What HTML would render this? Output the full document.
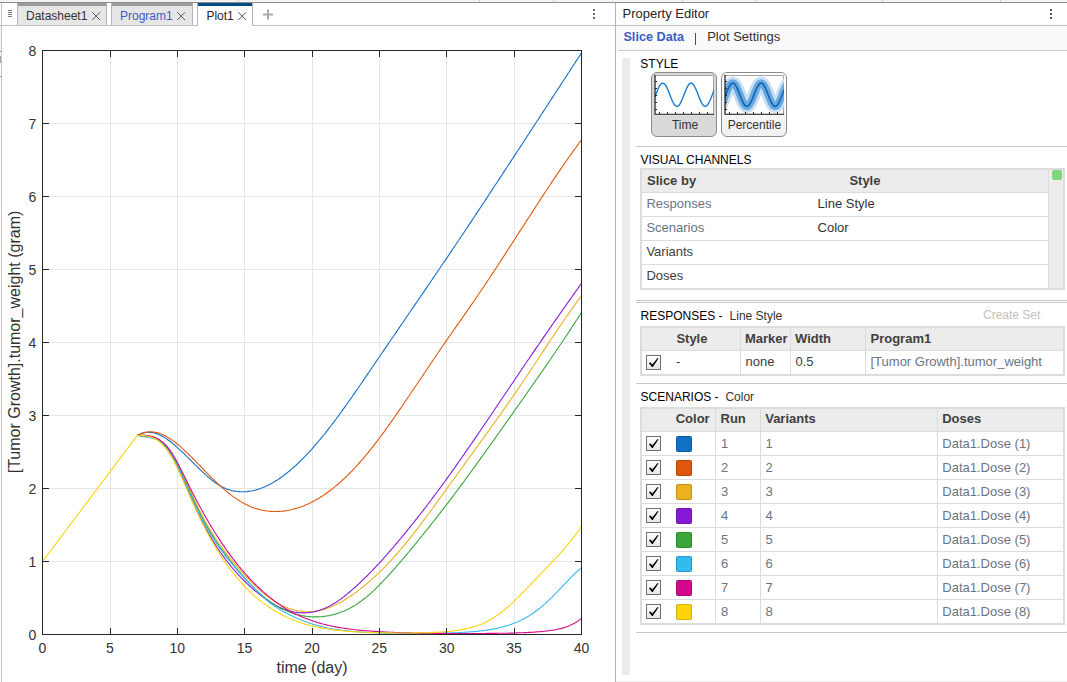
<!DOCTYPE html>
<html><head><meta charset="utf-8"><style>
html,body{margin:0;padding:0;}
body{width:1067px;height:682px;overflow:hidden;position:relative;background:#fff;font-family:"Liberation Sans",sans-serif;}
div{box-sizing:content-box;}
.t{position:absolute;white-space:pre;line-height:0;height:0;}
.t span{display:inline-block;line-height:normal;transform:translateY(-78%);}
</style></head><body>

<div style="position:absolute;left:0px;top:0px;width:1067px;height:2px;background:#f3f3f3;"></div>
<div style="position:absolute;left:238px;top:0px;width:1px;height:2px;background:#d4d4d4;"></div>
<div style="position:absolute;left:479px;top:0px;width:1px;height:2px;background:#d4d4d4;"></div>
<div style="position:absolute;left:553px;top:0px;width:1px;height:2px;background:#d4d4d4;"></div>
<div style="position:absolute;left:682px;top:0px;width:1px;height:2px;background:#d4d4d4;"></div>
<div style="position:absolute;left:756px;top:0px;width:1px;height:2px;background:#d4d4d4;"></div>
<div style="position:absolute;left:882px;top:0px;width:1px;height:2px;background:#d4d4d4;"></div>
<div style="position:absolute;left:1000px;top:0px;width:1px;height:2px;background:#d4d4d4;"></div>
<div style="position:absolute;left:0px;top:2px;width:1067px;height:1px;background:#8e8e8e;"></div>
<svg width="615" height="682" viewBox="0 0 615 682" style="position:absolute;left:0;top:0">
<path d="M110.5,51 V634 M177.5,51 V634 M244.5,51 V634 M312.5,51 V634 M379.5,51 V634 M446.5,51 V634 M514.5,51 V634 M43,561.5 H581 M43,488.5 H581 M43,415.5 H581 M43,342.5 H581 M43,269.5 H581 M43,196.5 H581 M43,123.5 H581" stroke="#e6e6e6" stroke-width="1" fill="none" shape-rendering="crispEdges"/>
<path d="M137.5,435.2 L138.8,434.5 L140.2,433.9 L141.5,433.4 L142.9,433.0 L144.2,432.6 L145.6,432.4 L146.9,432.3 L148.3,432.2 L149.6,432.3 L151.0,432.4 L152.3,432.6 L153.7,432.8 L155.0,433.2 L156.4,433.6 L157.7,434.1 L159.1,434.7 L160.4,435.3 L161.8,436.0 L163.1,436.8 L164.5,437.6 L165.8,438.4 L167.2,439.3 L168.5,440.3 L169.9,441.3 L171.2,442.3 L172.6,443.4 L173.9,444.5 L175.3,445.7 L176.6,446.9 L178.0,448.1 L179.3,449.3 L180.7,450.6 L182.0,451.8 L183.4,453.1 L184.7,454.4 L186.1,455.8 L187.4,457.1 L188.8,458.4 L190.1,459.7 L191.5,461.1 L192.8,462.4 L194.2,463.8 L195.5,465.1 L196.9,466.4 L198.2,467.7 L199.6,469.1 L200.9,470.4 L202.3,471.6 L203.6,472.9 L205.0,474.2 L206.3,475.4 L207.7,476.6 L209.0,477.7 L210.4,478.9 L211.7,480.0 L213.1,481.0 L214.4,482.0 L215.8,483.0 L217.1,483.9 L218.5,484.8 L219.8,485.6 L221.2,486.4 L222.5,487.1 L223.9,487.7 L225.2,488.3 L226.6,488.9 L227.9,489.4 L229.3,489.8 L230.6,490.2 L232.0,490.6 L233.3,490.9 L234.7,491.1 L236.0,491.3 L237.4,491.5 L238.7,491.6 L240.1,491.7 L241.4,491.8 L242.8,491.8 L244.1,491.8 L245.5,491.7 L246.8,491.6 L248.2,491.4 L249.5,491.3 L250.9,491.0 L252.2,490.8 L253.6,490.5 L254.9,490.2 L256.3,489.8 L257.6,489.4 L259.0,489.0 L260.3,488.5 L261.7,488.0 L263.0,487.5 L264.4,486.9 L265.7,486.3 L267.1,485.7 L268.4,485.1 L269.8,484.4 L271.1,483.7 L272.5,482.9 L273.8,482.1 L275.2,481.3 L276.5,480.5 L277.9,479.6 L279.2,478.7 L280.6,477.8 L281.9,476.8 L283.2,475.9 L284.6,474.8 L285.9,473.8 L287.3,472.7 L288.6,471.6 L290.0,470.5 L291.3,469.4 L292.7,468.2 L294.0,467.0 L295.4,465.8 L296.7,464.5 L298.1,463.3 L299.4,462.0 L300.8,460.7 L302.1,459.3 L303.5,457.9 L304.8,456.6 L306.2,455.1 L307.5,453.7 L308.9,452.3 L310.2,450.8 L311.6,449.3 L312.9,447.8 L314.3,446.2 L315.6,444.7 L317.0,443.1 L318.3,441.5 L319.7,439.9 L321.0,438.3 L322.4,436.7 L323.7,435.0 L325.1,433.3 L326.4,431.6 L327.8,429.9 L329.1,428.2 L330.5,426.5 L331.8,424.7 L333.2,422.9 L334.5,421.1 L335.9,419.3 L337.2,417.5 L338.6,415.7 L339.9,413.8 L341.3,412.0 L342.6,410.1 L344.0,408.2 L345.3,406.4 L346.7,404.5 L348.0,402.5 L349.4,400.6 L350.7,398.7 L352.1,396.8 L353.4,394.8 L354.8,392.9 L356.1,390.9 L357.5,389.0 L358.8,387.0 L360.2,385.0 L361.5,383.0 L362.9,381.1 L364.2,379.1 L365.6,377.1 L366.9,375.1 L368.3,373.2 L369.6,371.2 L371.0,369.2 L372.3,367.2 L373.7,365.2 L375.0,363.2 L376.4,361.3 L377.7,359.3 L379.1,357.3 L380.4,355.3 L381.8,353.3 L383.1,351.4 L384.5,349.4 L385.8,347.4 L387.2,345.4 L388.5,343.4 L389.9,341.5 L391.2,339.5 L392.6,337.5 L393.9,335.5 L395.3,333.6 L396.6,331.6 L398.0,329.6 L399.3,327.6 L400.7,325.6 L402.0,323.7 L403.4,321.7 L404.7,319.7 L406.1,317.7 L407.4,315.8 L408.8,313.8 L410.1,311.8 L411.5,309.8 L412.8,307.9 L414.2,305.9 L415.5,303.9 L416.9,302.0 L418.2,300.0 L419.6,298.0 L420.9,296.0 L422.3,294.1 L423.6,292.1 L425.0,290.1 L426.3,288.1 L427.7,286.1 L429.0,284.2 L430.4,282.2 L431.7,280.2 L433.0,278.2 L434.4,276.3 L435.7,274.3 L437.1,272.3 L438.4,270.3 L439.8,268.3 L441.1,266.3 L442.5,264.3 L443.8,262.3 L445.2,260.4 L446.5,258.4 L447.9,256.4 L449.2,254.4 L450.6,252.4 L451.9,250.4 L453.3,248.3 L454.6,246.3 L456.0,244.3 L457.3,242.3 L458.7,240.3 L460.0,238.3 L461.4,236.3 L462.7,234.2 L464.1,232.2 L465.4,230.2 L466.8,228.2 L468.1,226.1 L469.5,224.1 L470.8,222.1 L472.2,220.1 L473.5,218.0 L474.9,216.0 L476.2,213.9 L477.6,211.9 L478.9,209.9 L480.3,207.8 L481.6,205.8 L483.0,203.7 L484.3,201.7 L485.7,199.6 L487.0,197.6 L488.4,195.5 L489.7,193.5 L491.1,191.4 L492.4,189.4 L493.8,187.3 L495.1,185.3 L496.5,183.2 L497.8,181.2 L499.2,179.1 L500.5,177.1 L501.9,175.0 L503.2,172.9 L504.6,170.9 L505.9,168.8 L507.3,166.8 L508.6,164.7 L510.0,162.6 L511.3,160.6 L512.7,158.5 L514.0,156.4 L515.4,154.4 L516.7,152.3 L518.1,150.2 L519.4,148.2 L520.8,146.1 L522.1,144.0 L523.5,142.0 L524.8,139.9 L526.2,137.8 L527.5,135.8 L528.9,133.7 L530.2,131.6 L531.6,129.5 L532.9,127.5 L534.3,125.4 L535.6,123.3 L537.0,121.2 L538.3,119.2 L539.7,117.1 L541.0,115.0 L542.4,113.0 L543.7,110.9 L545.1,108.8 L546.4,106.7 L547.8,104.7 L549.1,102.6 L550.5,100.5 L551.8,98.4 L553.2,96.4 L554.5,94.3 L555.9,92.2 L557.2,90.1 L558.6,88.1 L559.9,86.0 L561.3,83.9 L562.6,81.8 L564.0,79.8 L565.3,77.7 L566.7,75.6 L568.0,73.5 L569.4,71.5 L570.7,69.4 L572.1,67.3 L573.4,65.2 L574.8,63.2 L576.1,61.1 L577.5,59.0 L578.8,57.0 L580.2,54.9 L581.5,52.8" stroke="#1270c6" stroke-width="1.1" fill="none" stroke-linejoin="round"/>
<path d="M137.5,435.2 L138.8,434.5 L140.2,433.9 L141.5,433.4 L142.9,433.0 L144.2,432.6 L145.6,432.3 L146.9,432.1 L148.3,432.0 L149.6,431.9 L151.0,431.9 L152.3,432.0 L153.7,432.1 L155.0,432.3 L156.4,432.6 L157.7,432.9 L159.1,433.3 L160.4,433.8 L161.8,434.3 L163.1,434.9 L164.5,435.5 L165.8,436.2 L167.2,437.0 L168.5,437.8 L169.9,438.6 L171.2,439.5 L172.6,440.4 L173.9,441.4 L175.3,442.4 L176.6,443.5 L178.0,444.6 L179.3,445.7 L180.7,446.9 L182.0,448.1 L183.4,449.3 L184.7,450.6 L186.1,451.9 L187.4,453.2 L188.8,454.5 L190.1,455.8 L191.5,457.2 L192.8,458.5 L194.2,459.9 L195.5,461.3 L196.9,462.7 L198.2,464.1 L199.6,465.4 L200.9,466.8 L202.3,468.2 L203.6,469.6 L205.0,471.0 L206.3,472.4 L207.7,473.8 L209.0,475.1 L210.4,476.5 L211.7,477.8 L213.1,479.1 L214.4,480.4 L215.8,481.7 L217.1,483.0 L218.5,484.3 L219.8,485.5 L221.2,486.7 L222.5,487.9 L223.9,489.1 L225.2,490.2 L226.6,491.4 L227.9,492.5 L229.3,493.5 L230.6,494.6 L232.0,495.6 L233.3,496.6 L234.7,497.6 L236.0,498.5 L237.4,499.4 L238.7,500.3 L240.1,501.1 L241.4,501.9 L242.8,502.7 L244.1,503.5 L245.5,504.2 L246.8,504.8 L248.2,505.5 L249.5,506.1 L250.9,506.7 L252.2,507.2 L253.6,507.7 L254.9,508.2 L256.3,508.6 L257.6,509.0 L259.0,509.4 L260.3,509.8 L261.7,510.1 L263.0,510.3 L264.4,510.6 L265.7,510.8 L267.1,511.0 L268.4,511.2 L269.8,511.3 L271.1,511.4 L272.5,511.5 L273.8,511.5 L275.2,511.5 L276.5,511.5 L277.9,511.5 L279.2,511.4 L280.6,511.3 L281.9,511.2 L283.2,511.1 L284.6,510.9 L285.9,510.7 L287.3,510.5 L288.6,510.2 L290.0,510.0 L291.3,509.7 L292.7,509.3 L294.0,509.0 L295.4,508.6 L296.7,508.2 L298.1,507.8 L299.4,507.4 L300.8,506.9 L302.1,506.4 L303.5,505.9 L304.8,505.3 L306.2,504.8 L307.5,504.2 L308.9,503.5 L310.2,502.9 L311.6,502.2 L312.9,501.5 L314.3,500.8 L315.6,500.1 L317.0,499.3 L318.3,498.5 L319.7,497.7 L321.0,496.8 L322.4,496.0 L323.7,495.1 L325.1,494.2 L326.4,493.2 L327.8,492.3 L329.1,491.3 L330.5,490.3 L331.8,489.2 L333.2,488.1 L334.5,487.1 L335.9,485.9 L337.2,484.8 L338.6,483.7 L339.9,482.5 L341.3,481.3 L342.6,480.0 L344.0,478.8 L345.3,477.5 L346.7,476.2 L348.0,474.9 L349.4,473.5 L350.7,472.2 L352.1,470.8 L353.4,469.4 L354.8,467.9 L356.1,466.5 L357.5,465.0 L358.8,463.5 L360.2,462.0 L361.5,460.4 L362.9,458.9 L364.2,457.3 L365.6,455.7 L366.9,454.0 L368.3,452.4 L369.6,450.7 L371.0,449.1 L372.3,447.3 L373.7,445.6 L375.0,443.9 L376.4,442.1 L377.7,440.4 L379.1,438.6 L380.4,436.8 L381.8,434.9 L383.1,433.1 L384.5,431.3 L385.8,429.4 L387.2,427.5 L388.5,425.6 L389.9,423.7 L391.2,421.8 L392.6,419.9 L393.9,418.0 L395.3,416.0 L396.6,414.1 L398.0,412.1 L399.3,410.1 L400.7,408.2 L402.0,406.2 L403.4,404.2 L404.7,402.2 L406.1,400.3 L407.4,398.3 L408.8,396.3 L410.1,394.3 L411.5,392.3 L412.8,390.3 L414.2,388.3 L415.5,386.3 L416.9,384.3 L418.2,382.3 L419.6,380.3 L420.9,378.2 L422.3,376.2 L423.6,374.2 L425.0,372.2 L426.3,370.2 L427.7,368.2 L429.0,366.2 L430.4,364.2 L431.7,362.2 L433.0,360.2 L434.4,358.2 L435.7,356.2 L437.1,354.2 L438.4,352.2 L439.8,350.2 L441.1,348.3 L442.5,346.3 L443.8,344.3 L445.2,342.4 L446.5,340.4 L447.9,338.5 L449.2,336.5 L450.6,334.6 L451.9,332.7 L453.3,330.7 L454.6,328.8 L456.0,326.9 L457.3,324.9 L458.7,323.0 L460.0,321.1 L461.4,319.2 L462.7,317.2 L464.1,315.3 L465.4,313.4 L466.8,311.4 L468.1,309.5 L469.5,307.6 L470.8,305.6 L472.2,303.7 L473.5,301.7 L474.9,299.7 L476.2,297.8 L477.6,295.8 L478.9,293.8 L480.3,291.8 L481.6,289.8 L483.0,287.8 L484.3,285.8 L485.7,283.7 L487.0,281.7 L488.4,279.7 L489.7,277.7 L491.1,275.6 L492.4,273.6 L493.8,271.5 L495.1,269.5 L496.5,267.4 L497.8,265.3 L499.2,263.3 L500.5,261.2 L501.9,259.1 L503.2,257.1 L504.6,255.0 L505.9,252.9 L507.3,250.8 L508.6,248.7 L510.0,246.6 L511.3,244.5 L512.7,242.4 L514.0,240.3 L515.4,238.2 L516.7,236.1 L518.1,234.0 L519.4,231.9 L520.8,229.9 L522.1,227.8 L523.5,225.7 L524.8,223.6 L526.2,221.5 L527.5,219.4 L528.9,217.3 L530.2,215.2 L531.6,213.1 L532.9,211.0 L534.3,208.9 L535.6,206.8 L537.0,204.7 L538.3,202.7 L539.7,200.6 L541.0,198.5 L542.4,196.4 L543.7,194.4 L545.1,192.3 L546.4,190.3 L547.8,188.2 L549.1,186.2 L550.5,184.2 L551.8,182.1 L553.2,180.1 L554.5,178.1 L555.9,176.1 L557.2,174.1 L558.6,172.1 L559.9,170.1 L561.3,168.2 L562.6,166.2 L564.0,164.2 L565.3,162.3 L566.7,160.4 L568.0,158.5 L569.4,156.5 L570.7,154.6 L572.1,152.8 L573.4,150.9 L574.8,149.0 L576.1,147.2 L577.5,145.3 L578.8,143.5 L580.2,141.7 L581.5,139.9" stroke="#e0560c" stroke-width="1.1" fill="none" stroke-linejoin="round"/>
<path d="M137.5,435.2 L138.8,435.2 L140.2,435.2 L141.5,435.3 L142.9,435.3 L144.2,435.4 L145.6,435.5 L146.9,435.7 L148.3,435.9 L149.6,436.1 L151.0,436.5 L152.3,436.9 L153.7,437.3 L155.0,437.9 L156.4,438.6 L157.7,439.3 L159.1,440.2 L160.4,441.1 L161.8,442.2 L163.1,443.4 L164.5,444.7 L165.8,446.1 L167.2,447.7 L168.5,449.4 L169.9,451.3 L171.2,453.2 L172.6,455.4 L173.9,457.6 L175.3,460.0 L176.6,462.5 L178.0,465.0 L179.3,467.7 L180.7,470.4 L182.0,473.2 L183.4,476.0 L184.7,478.9 L186.1,481.8 L187.4,484.7 L188.8,487.6 L190.1,490.6 L191.5,493.5 L192.8,496.4 L194.2,499.3 L195.5,502.1 L196.9,504.9 L198.2,507.7 L199.6,510.4 L200.9,513.1 L202.3,515.7 L203.6,518.3 L205.0,520.8 L206.3,523.3 L207.7,525.7 L209.0,528.0 L210.4,530.2 L211.7,532.4 L213.1,534.6 L214.4,536.7 L215.8,538.7 L217.1,540.7 L218.5,542.7 L219.8,544.6 L221.2,546.5 L222.5,548.3 L223.9,550.1 L225.2,551.9 L226.6,553.7 L227.9,555.4 L229.3,557.1 L230.6,558.8 L232.0,560.4 L233.3,562.1 L234.7,563.7 L236.0,565.2 L237.4,566.8 L238.7,568.4 L240.1,569.9 L241.4,571.4 L242.8,572.9 L244.1,574.4 L245.5,575.9 L246.8,577.3 L248.2,578.7 L249.5,580.1 L250.9,581.5 L252.2,582.9 L253.6,584.2 L254.9,585.6 L256.3,586.9 L257.6,588.1 L259.0,589.4 L260.3,590.6 L261.7,591.7 L263.0,592.9 L264.4,594.0 L265.7,595.1 L267.1,596.1 L268.4,597.2 L269.8,598.1 L271.1,599.1 L272.5,600.0 L273.8,600.9 L275.2,601.7 L276.5,602.5 L277.9,603.3 L279.2,604.0 L280.6,604.7 L281.9,605.4 L283.2,606.0 L284.6,606.6 L285.9,607.2 L287.3,607.7 L288.6,608.2 L290.0,608.7 L291.3,609.1 L292.7,609.5 L294.0,609.9 L295.4,610.2 L296.7,610.5 L298.1,610.8 L299.4,611.0 L300.8,611.2 L302.1,611.4 L303.5,611.6 L304.8,611.7 L306.2,611.7 L307.5,611.8 L308.9,611.8 L310.2,611.7 L311.6,611.7 L312.9,611.6 L314.3,611.4 L315.6,611.2 L317.0,611.0 L318.3,610.8 L319.7,610.5 L321.0,610.2 L322.4,609.9 L323.7,609.5 L325.1,609.1 L326.4,608.7 L327.8,608.2 L329.1,607.7 L330.5,607.2 L331.8,606.6 L333.2,606.1 L334.5,605.4 L335.9,604.8 L337.2,604.1 L338.6,603.4 L339.9,602.7 L341.3,601.9 L342.6,601.2 L344.0,600.3 L345.3,599.5 L346.7,598.7 L348.0,597.8 L349.4,596.9 L350.7,596.0 L352.1,595.0 L353.4,594.1 L354.8,593.1 L356.1,592.2 L357.5,591.2 L358.8,590.1 L360.2,589.1 L361.5,588.0 L362.9,587.0 L364.2,585.9 L365.6,584.8 L366.9,583.6 L368.3,582.5 L369.6,581.3 L371.0,580.1 L372.3,578.9 L373.7,577.7 L375.0,576.5 L376.4,575.2 L377.7,573.9 L379.1,572.6 L380.4,571.3 L381.8,570.0 L383.1,568.6 L384.5,567.3 L385.8,565.9 L387.2,564.5 L388.5,563.0 L389.9,561.6 L391.2,560.1 L392.6,558.7 L393.9,557.2 L395.3,555.6 L396.6,554.1 L398.0,552.6 L399.3,551.0 L400.7,549.4 L402.0,547.8 L403.4,546.2 L404.7,544.6 L406.1,542.9 L407.4,541.3 L408.8,539.6 L410.1,537.9 L411.5,536.2 L412.8,534.5 L414.2,532.8 L415.5,531.1 L416.9,529.3 L418.2,527.6 L419.6,525.8 L420.9,524.0 L422.3,522.2 L423.6,520.4 L425.0,518.6 L426.3,516.8 L427.7,515.0 L429.0,513.2 L430.4,511.3 L431.7,509.5 L433.0,507.7 L434.4,505.8 L435.7,504.0 L437.1,502.1 L438.4,500.3 L439.8,498.4 L441.1,496.6 L442.5,494.7 L443.8,492.8 L445.2,491.0 L446.5,489.1 L447.9,487.2 L449.2,485.4 L450.6,483.5 L451.9,481.6 L453.3,479.8 L454.6,477.9 L456.0,476.0 L457.3,474.2 L458.7,472.3 L460.0,470.4 L461.4,468.5 L462.7,466.7 L464.1,464.8 L465.4,462.9 L466.8,461.0 L468.1,459.2 L469.5,457.3 L470.8,455.4 L472.2,453.6 L473.5,451.7 L474.9,449.8 L476.2,447.9 L477.6,446.1 L478.9,444.2 L480.3,442.3 L481.6,440.5 L483.0,438.6 L484.3,436.7 L485.7,434.8 L487.0,433.0 L488.4,431.1 L489.7,429.2 L491.1,427.3 L492.4,425.4 L493.8,423.6 L495.1,421.7 L496.5,419.8 L497.8,417.9 L499.2,416.0 L500.5,414.1 L501.9,412.2 L503.2,410.3 L504.6,408.4 L505.9,406.5 L507.3,404.6 L508.6,402.6 L510.0,400.7 L511.3,398.8 L512.7,396.8 L514.0,394.9 L515.4,392.9 L516.7,390.9 L518.1,389.0 L519.4,387.0 L520.8,385.0 L522.1,383.0 L523.5,381.0 L524.8,379.0 L526.2,377.0 L527.5,374.9 L528.9,372.9 L530.2,370.9 L531.6,368.8 L532.9,366.8 L534.3,364.8 L535.6,362.7 L537.0,360.7 L538.3,358.6 L539.7,356.6 L541.0,354.5 L542.4,352.5 L543.7,350.4 L545.1,348.4 L546.4,346.4 L547.8,344.3 L549.1,342.3 L550.5,340.2 L551.8,338.2 L553.2,336.2 L554.5,334.2 L555.9,332.1 L557.2,330.1 L558.6,328.1 L559.9,326.1 L561.3,324.1 L562.6,322.2 L564.0,320.2 L565.3,318.2 L566.7,316.3 L568.0,314.4 L569.4,312.4 L570.7,310.5 L572.1,308.6 L573.4,306.8 L574.8,304.9 L576.1,303.0 L577.5,301.2 L578.8,299.4 L580.2,297.6 L581.5,295.8" stroke="#edb020" stroke-width="1.1" fill="none" stroke-linejoin="round"/>
<path d="M137.5,435.2 L138.8,435.5 L140.2,435.7 L141.5,435.9 L142.9,436.1 L144.2,436.2 L145.6,436.4 L146.9,436.6 L148.3,436.8 L149.6,437.1 L151.0,437.4 L152.3,437.7 L153.7,438.2 L155.0,438.7 L156.4,439.3 L157.7,440.0 L159.1,440.8 L160.4,441.7 L161.8,442.7 L163.1,443.9 L164.5,445.2 L165.8,446.7 L167.2,448.3 L168.5,450.1 L169.9,452.1 L171.2,454.2 L172.6,456.5 L173.9,459.0 L175.3,461.6 L176.6,464.4 L178.0,467.3 L179.3,470.3 L180.7,473.3 L182.0,476.5 L183.4,479.7 L184.7,482.9 L186.1,486.1 L187.4,489.3 L188.8,492.5 L190.1,495.6 L191.5,498.7 L192.8,501.8 L194.2,504.8 L195.5,507.8 L196.9,510.7 L198.2,513.6 L199.6,516.4 L200.9,519.2 L202.3,521.9 L203.6,524.5 L205.0,527.1 L206.3,529.6 L207.7,532.0 L209.0,534.4 L210.4,536.7 L211.7,539.0 L213.1,541.2 L214.4,543.3 L215.8,545.5 L217.1,547.5 L218.5,549.5 L219.8,551.5 L221.2,553.5 L222.5,555.3 L223.9,557.2 L225.2,559.0 L226.6,560.8 L227.9,562.5 L229.3,564.2 L230.6,565.9 L232.0,567.5 L233.3,569.1 L234.7,570.6 L236.0,572.2 L237.4,573.7 L238.7,575.1 L240.1,576.6 L241.4,578.0 L242.8,579.3 L244.1,580.7 L245.5,582.0 L246.8,583.3 L248.2,584.6 L249.5,585.9 L250.9,587.1 L252.2,588.3 L253.6,589.5 L254.9,590.6 L256.3,591.7 L257.6,592.9 L259.0,593.9 L260.3,595.0 L261.7,596.1 L263.0,597.1 L264.4,598.1 L265.7,599.1 L267.1,600.0 L268.4,600.9 L269.8,601.8 L271.1,602.6 L272.5,603.5 L273.8,604.3 L275.2,605.0 L276.5,605.7 L277.9,606.4 L279.2,607.1 L280.6,607.7 L281.9,608.3 L283.2,608.8 L284.6,609.3 L285.9,609.8 L287.3,610.3 L288.6,610.7 L290.0,611.1 L291.3,611.4 L292.7,611.7 L294.0,612.0 L295.4,612.2 L296.7,612.4 L298.1,612.6 L299.4,612.7 L300.8,612.8 L302.1,612.9 L303.5,612.9 L304.8,612.9 L306.2,612.8 L307.5,612.7 L308.9,612.6 L310.2,612.4 L311.6,612.2 L312.9,612.0 L314.3,611.7 L315.6,611.4 L317.0,611.0 L318.3,610.6 L319.7,610.2 L321.0,609.8 L322.4,609.3 L323.7,608.7 L325.1,608.2 L326.4,607.6 L327.8,606.9 L329.1,606.3 L330.5,605.6 L331.8,604.8 L333.2,604.0 L334.5,603.2 L335.9,602.4 L337.2,601.5 L338.6,600.6 L339.9,599.6 L341.3,598.7 L342.6,597.6 L344.0,596.6 L345.3,595.5 L346.7,594.4 L348.0,593.3 L349.4,592.2 L350.7,591.0 L352.1,589.9 L353.4,588.7 L354.8,587.5 L356.1,586.3 L357.5,585.0 L358.8,583.8 L360.2,582.5 L361.5,581.2 L362.9,579.9 L364.2,578.6 L365.6,577.3 L366.9,576.0 L368.3,574.6 L369.6,573.2 L371.0,571.9 L372.3,570.5 L373.7,569.0 L375.0,567.6 L376.4,566.2 L377.7,564.7 L379.1,563.3 L380.4,561.8 L381.8,560.3 L383.1,558.8 L384.5,557.3 L385.8,555.8 L387.2,554.3 L388.5,552.7 L389.9,551.2 L391.2,549.6 L392.6,548.1 L393.9,546.5 L395.3,544.9 L396.6,543.3 L398.0,541.7 L399.3,540.1 L400.7,538.5 L402.0,536.8 L403.4,535.2 L404.7,533.6 L406.1,531.9 L407.4,530.2 L408.8,528.6 L410.1,526.9 L411.5,525.2 L412.8,523.5 L414.2,521.8 L415.5,520.1 L416.9,518.4 L418.2,516.7 L419.6,515.0 L420.9,513.3 L422.3,511.5 L423.6,509.8 L425.0,508.0 L426.3,506.3 L427.7,504.5 L429.0,502.7 L430.4,501.0 L431.7,499.2 L433.0,497.4 L434.4,495.6 L435.7,493.8 L437.1,492.0 L438.4,490.2 L439.8,488.3 L441.1,486.5 L442.5,484.7 L443.8,482.8 L445.2,481.0 L446.5,479.1 L447.9,477.2 L449.2,475.3 L450.6,473.5 L451.9,471.6 L453.3,469.7 L454.6,467.8 L456.0,465.9 L457.3,463.9 L458.7,462.0 L460.0,460.1 L461.4,458.2 L462.7,456.2 L464.1,454.3 L465.4,452.3 L466.8,450.4 L468.1,448.4 L469.5,446.5 L470.8,444.5 L472.2,442.6 L473.5,440.6 L474.9,438.6 L476.2,436.6 L477.6,434.7 L478.9,432.7 L480.3,430.7 L481.6,428.7 L483.0,426.7 L484.3,424.7 L485.7,422.7 L487.0,420.7 L488.4,418.7 L489.7,416.7 L491.1,414.7 L492.4,412.7 L493.8,410.7 L495.1,408.7 L496.5,406.7 L497.8,404.7 L499.2,402.7 L500.5,400.7 L501.9,398.7 L503.2,396.7 L504.6,394.7 L505.9,392.7 L507.3,390.7 L508.6,388.7 L510.0,386.7 L511.3,384.7 L512.7,382.7 L514.0,380.7 L515.4,378.7 L516.7,376.7 L518.1,374.7 L519.4,372.7 L520.8,370.7 L522.1,368.7 L523.5,366.7 L524.8,364.8 L526.2,362.8 L527.5,360.8 L528.9,358.8 L530.2,356.8 L531.6,354.8 L532.9,352.9 L534.3,350.9 L535.6,348.9 L537.0,346.9 L538.3,345.0 L539.7,343.0 L541.0,341.1 L542.4,339.1 L543.7,337.1 L545.1,335.2 L546.4,333.2 L547.8,331.3 L549.1,329.3 L550.5,327.4 L551.8,325.4 L553.2,323.5 L554.5,321.6 L555.9,319.6 L557.2,317.7 L558.6,315.8 L559.9,313.8 L561.3,311.9 L562.6,310.0 L564.0,308.1 L565.3,306.2 L566.7,304.2 L568.0,302.3 L569.4,300.4 L570.7,298.5 L572.1,296.6 L573.4,294.7 L574.8,292.8 L576.1,290.9 L577.5,289.0 L578.8,287.1 L580.2,285.2 L581.5,283.3" stroke="#8719d6" stroke-width="1.1" fill="none" stroke-linejoin="round"/>
<path d="M137.5,435.2 L138.8,435.2 L140.2,435.2 L141.5,435.3 L142.9,435.4 L144.2,435.4 L145.6,435.6 L146.9,435.8 L148.3,436.0 L149.6,436.3 L151.0,436.7 L152.3,437.1 L153.7,437.6 L155.0,438.2 L156.4,438.9 L157.7,439.7 L159.1,440.6 L160.4,441.6 L161.8,442.7 L163.1,444.0 L164.5,445.4 L165.8,446.9 L167.2,448.5 L168.5,450.3 L169.9,452.2 L171.2,454.2 L172.6,456.4 L173.9,458.8 L175.3,461.2 L176.6,463.7 L178.0,466.4 L179.3,469.1 L180.7,471.9 L182.0,474.7 L183.4,477.6 L184.7,480.6 L186.1,483.5 L187.4,486.5 L188.8,489.4 L190.1,492.4 L191.5,495.4 L192.8,498.3 L194.2,501.2 L195.5,504.1 L196.9,506.9 L198.2,509.7 L199.6,512.5 L200.9,515.2 L202.3,517.8 L203.6,520.4 L205.0,522.9 L206.3,525.3 L207.7,527.7 L209.0,530.0 L210.4,532.3 L211.7,534.5 L213.1,536.6 L214.4,538.8 L215.8,540.8 L217.1,542.8 L218.5,544.8 L219.8,546.8 L221.2,548.7 L222.5,550.5 L223.9,552.4 L225.2,554.2 L226.6,556.0 L227.9,557.7 L229.3,559.5 L230.6,561.2 L232.0,562.9 L233.3,564.6 L234.7,566.2 L236.0,567.8 L237.4,569.4 L238.7,571.0 L240.1,572.6 L241.4,574.2 L242.8,575.7 L244.1,577.3 L245.5,578.8 L246.8,580.3 L248.2,581.7 L249.5,583.2 L250.9,584.6 L252.2,586.0 L253.6,587.4 L254.9,588.8 L256.3,590.1 L257.6,591.4 L259.0,592.6 L260.3,593.9 L261.7,595.0 L263.0,596.2 L264.4,597.3 L265.7,598.4 L267.1,599.5 L268.4,600.5 L269.8,601.5 L271.1,602.4 L272.5,603.4 L273.8,604.2 L275.2,605.1 L276.5,605.9 L277.9,606.7 L279.2,607.5 L280.6,608.2 L281.9,608.9 L283.2,609.5 L284.6,610.1 L285.9,610.7 L287.3,611.3 L288.6,611.8 L290.0,612.3 L291.3,612.8 L292.7,613.3 L294.0,613.7 L295.4,614.1 L296.7,614.5 L298.1,614.8 L299.4,615.1 L300.8,615.4 L302.1,615.7 L303.5,615.9 L304.8,616.1 L306.2,616.3 L307.5,616.5 L308.9,616.6 L310.2,616.7 L311.6,616.8 L312.9,616.9 L314.3,616.9 L315.6,616.9 L317.0,616.9 L318.3,616.9 L319.7,616.8 L321.0,616.7 L322.4,616.6 L323.7,616.4 L325.1,616.2 L326.4,616.0 L327.8,615.8 L329.1,615.6 L330.5,615.3 L331.8,615.0 L333.2,614.6 L334.5,614.3 L335.9,613.9 L337.2,613.5 L338.6,613.1 L339.9,612.6 L341.3,612.1 L342.6,611.6 L344.0,611.0 L345.3,610.4 L346.7,609.8 L348.0,609.2 L349.4,608.5 L350.7,607.8 L352.1,607.0 L353.4,606.2 L354.8,605.4 L356.1,604.6 L357.5,603.7 L358.8,602.8 L360.2,601.8 L361.5,600.9 L362.9,599.8 L364.2,598.8 L365.6,597.7 L366.9,596.6 L368.3,595.5 L369.6,594.3 L371.0,593.1 L372.3,591.8 L373.7,590.6 L375.0,589.3 L376.4,587.9 L377.7,586.6 L379.1,585.3 L380.4,583.9 L381.8,582.5 L383.1,581.1 L384.5,579.7 L385.8,578.2 L387.2,576.8 L388.5,575.3 L389.9,573.8 L391.2,572.3 L392.6,570.8 L393.9,569.3 L395.3,567.8 L396.6,566.2 L398.0,564.7 L399.3,563.1 L400.7,561.6 L402.0,560.0 L403.4,558.4 L404.7,556.8 L406.1,555.2 L407.4,553.6 L408.8,552.0 L410.1,550.4 L411.5,548.7 L412.8,547.1 L414.2,545.5 L415.5,543.8 L416.9,542.2 L418.2,540.5 L419.6,538.9 L420.9,537.2 L422.3,535.5 L423.6,533.8 L425.0,532.2 L426.3,530.5 L427.7,528.8 L429.0,527.1 L430.4,525.4 L431.7,523.7 L433.0,522.0 L434.4,520.3 L435.7,518.6 L437.1,516.8 L438.4,515.1 L439.8,513.4 L441.1,511.7 L442.5,509.9 L443.8,508.2 L445.2,506.4 L446.5,504.7 L447.9,502.9 L449.2,501.1 L450.6,499.4 L451.9,497.6 L453.3,495.8 L454.6,494.0 L456.0,492.2 L457.3,490.4 L458.7,488.6 L460.0,486.7 L461.4,484.9 L462.7,483.1 L464.1,481.3 L465.4,479.4 L466.8,477.6 L468.1,475.7 L469.5,473.9 L470.8,472.0 L472.2,470.2 L473.5,468.3 L474.9,466.4 L476.2,464.6 L477.6,462.7 L478.9,460.8 L480.3,458.9 L481.6,457.1 L483.0,455.2 L484.3,453.3 L485.7,451.4 L487.0,449.5 L488.4,447.6 L489.7,445.7 L491.1,443.9 L492.4,442.0 L493.8,440.1 L495.1,438.2 L496.5,436.3 L497.8,434.4 L499.2,432.5 L500.5,430.6 L501.9,428.7 L503.2,426.7 L504.6,424.8 L505.9,422.9 L507.3,421.0 L508.6,419.1 L510.0,417.2 L511.3,415.3 L512.7,413.4 L514.0,411.5 L515.4,409.5 L516.7,407.6 L518.1,405.7 L519.4,403.8 L520.8,401.9 L522.1,400.0 L523.5,398.0 L524.8,396.1 L526.2,394.2 L527.5,392.3 L528.9,390.3 L530.2,388.4 L531.6,386.5 L532.9,384.5 L534.3,382.6 L535.6,380.7 L537.0,378.7 L538.3,376.8 L539.7,374.9 L541.0,372.9 L542.4,371.0 L543.7,369.0 L545.1,367.1 L546.4,365.1 L547.8,363.1 L549.1,361.2 L550.5,359.2 L551.8,357.2 L553.2,355.3 L554.5,353.3 L555.9,351.3 L557.2,349.3 L558.6,347.3 L559.9,345.3 L561.3,343.3 L562.6,341.3 L564.0,339.3 L565.3,337.3 L566.7,335.2 L568.0,333.2 L569.4,331.1 L570.7,329.1 L572.1,327.0 L573.4,324.9 L574.8,322.9 L576.1,320.8 L577.5,318.7 L578.8,316.6 L580.2,314.5 L581.5,312.3" stroke="#3aa63a" stroke-width="1.1" fill="none" stroke-linejoin="round"/>
<path d="M137.5,435.2 L138.8,435.6 L140.2,435.9 L141.5,436.2 L142.9,436.5 L144.2,436.7 L145.6,436.9 L146.9,437.0 L148.3,437.2 L149.6,437.5 L151.0,437.7 L152.3,438.0 L153.7,438.4 L155.0,438.8 L156.4,439.3 L157.7,439.9 L159.1,440.6 L160.4,441.5 L161.8,442.4 L163.1,443.5 L164.5,444.7 L165.8,446.1 L167.2,447.7 L168.5,449.4 L169.9,451.3 L171.2,453.4 L172.6,455.7 L173.9,458.1 L175.3,460.7 L176.6,463.4 L178.0,466.3 L179.3,469.2 L180.7,472.2 L182.0,475.3 L183.4,478.4 L184.7,481.5 L186.1,484.6 L187.4,487.8 L188.8,490.9 L190.1,494.0 L191.5,497.1 L192.8,500.1 L194.2,503.1 L195.5,506.0 L196.9,508.9 L198.2,511.8 L199.6,514.5 L200.9,517.2 L202.3,519.9 L203.6,522.4 L205.0,524.9 L206.3,527.4 L207.7,529.7 L209.0,532.0 L210.4,534.2 L211.7,536.4 L213.1,538.5 L214.4,540.6 L215.8,542.6 L217.1,544.5 L218.5,546.5 L219.8,548.4 L221.2,550.2 L222.5,552.0 L223.9,553.8 L225.2,555.6 L226.6,557.3 L227.9,559.0 L229.3,560.7 L230.6,562.3 L232.0,564.0 L233.3,565.6 L234.7,567.2 L236.0,568.7 L237.4,570.3 L238.7,571.8 L240.1,573.4 L241.4,574.9 L242.8,576.3 L244.1,577.8 L245.5,579.3 L246.8,580.7 L248.2,582.2 L249.5,583.6 L250.9,585.0 L252.2,586.4 L253.6,587.7 L254.9,589.1 L256.3,590.4 L257.6,591.8 L259.0,593.1 L260.3,594.4 L261.7,595.7 L263.0,596.9 L264.4,598.2 L265.7,599.4 L267.1,600.5 L268.4,601.6 L269.8,602.7 L271.1,603.7 L272.5,604.7 L273.8,605.6 L275.2,606.5 L276.5,607.4 L277.9,608.3 L279.2,609.1 L280.6,609.9 L281.9,610.7 L283.2,611.4 L284.6,612.2 L285.9,612.9 L287.3,613.6 L288.6,614.3 L290.0,615.0 L291.3,615.6 L292.7,616.3 L294.0,616.9 L295.4,617.5 L296.7,618.1 L298.1,618.7 L299.4,619.3 L300.8,619.8 L302.1,620.4 L303.5,620.9 L304.8,621.4 L306.2,621.9 L307.5,622.4 L308.9,622.9 L310.2,623.3 L311.6,623.8 L312.9,624.2 L314.3,624.6 L315.6,625.0 L317.0,625.4 L318.3,625.8 L319.7,626.1 L321.0,626.5 L322.4,626.8 L323.7,627.1 L325.1,627.4 L326.4,627.7 L327.8,628.0 L329.1,628.2 L330.5,628.5 L331.8,628.7 L333.2,629.0 L334.5,629.2 L335.9,629.4 L337.2,629.6 L338.6,629.8 L339.9,630.0 L341.3,630.2 L342.6,630.4 L344.0,630.5 L345.3,630.7 L346.7,630.8 L348.0,631.0 L349.4,631.1 L350.7,631.2 L352.1,631.4 L353.4,631.5 L354.8,631.6 L356.1,631.7 L357.5,631.8 L358.8,631.9 L360.2,632.0 L361.5,632.1 L362.9,632.2 L364.2,632.2 L365.6,632.3 L366.9,632.4 L368.3,632.5 L369.6,632.5 L371.0,632.6 L372.3,632.7 L373.7,632.7 L375.0,632.8 L376.4,632.8 L377.7,632.9 L379.1,632.9 L380.4,632.9 L381.8,633.0 L383.1,633.0 L384.5,633.1 L385.8,633.1 L387.2,633.1 L388.5,633.2 L389.9,633.2 L391.2,633.2 L392.6,633.2 L393.9,633.3 L395.3,633.3 L396.6,633.3 L398.0,633.3 L399.3,633.3 L400.7,633.4 L402.0,633.4 L403.4,633.4 L404.7,633.4 L406.1,633.4 L407.4,633.4 L408.8,633.4 L410.1,633.4 L411.5,633.4 L412.8,633.4 L414.2,633.4 L415.5,633.4 L416.9,633.4 L418.2,633.4 L419.6,633.4 L420.9,633.4 L422.3,633.4 L423.6,633.4 L425.0,633.4 L426.3,633.4 L427.7,633.4 L429.0,633.4 L430.4,633.4 L431.7,633.3 L433.0,633.3 L434.4,633.3 L435.7,633.3 L437.1,633.3 L438.4,633.2 L439.8,633.2 L441.1,633.2 L442.5,633.2 L443.8,633.1 L445.2,633.1 L446.5,633.1 L447.9,633.0 L449.2,633.0 L450.6,632.9 L451.9,632.9 L453.3,632.8 L454.6,632.8 L456.0,632.7 L457.3,632.7 L458.7,632.6 L460.0,632.5 L461.4,632.5 L462.7,632.4 L464.1,632.3 L465.4,632.2 L466.8,632.1 L468.1,632.0 L469.5,631.9 L470.8,631.8 L472.2,631.7 L473.5,631.6 L474.9,631.5 L476.2,631.4 L477.6,631.2 L478.9,631.1 L480.3,631.0 L481.6,630.8 L483.0,630.6 L484.3,630.5 L485.7,630.3 L487.0,630.1 L488.4,629.9 L489.7,629.7 L491.1,629.4 L492.4,629.2 L493.8,628.9 L495.1,628.7 L496.5,628.4 L497.8,628.1 L499.2,627.8 L500.5,627.5 L501.9,627.1 L503.2,626.8 L504.6,626.4 L505.9,626.0 L507.3,625.6 L508.6,625.2 L510.0,624.7 L511.3,624.3 L512.7,623.8 L514.0,623.3 L515.4,622.7 L516.7,622.2 L518.1,621.6 L519.4,621.0 L520.8,620.3 L522.1,619.6 L523.5,619.0 L524.8,618.2 L526.2,617.5 L527.5,616.7 L528.9,615.9 L530.2,615.0 L531.6,614.2 L532.9,613.3 L534.3,612.3 L535.6,611.3 L537.0,610.3 L538.3,609.3 L539.7,608.2 L541.0,607.1 L542.4,606.0 L543.7,604.9 L545.1,603.7 L546.4,602.5 L547.8,601.2 L549.1,599.9 L550.5,598.6 L551.8,597.3 L553.2,596.0 L554.5,594.6 L555.9,593.2 L557.2,591.8 L558.6,590.4 L559.9,589.0 L561.3,587.6 L562.6,586.2 L564.0,584.7 L565.3,583.3 L566.7,581.9 L568.0,580.5 L569.4,579.1 L570.7,577.7 L572.1,576.3 L573.4,575.0 L574.8,573.7 L576.1,572.4 L577.5,571.2 L578.8,570.0 L580.2,568.9 L581.5,567.8" stroke="#32bcee" stroke-width="1.1" fill="none" stroke-linejoin="round"/>
<path d="M137.5,435.2 L138.8,435.2 L140.2,435.2 L141.5,435.2 L142.9,435.3 L144.2,435.3 L145.6,435.4 L146.9,435.5 L148.3,435.7 L149.6,435.9 L151.0,436.2 L152.3,436.5 L153.7,436.9 L155.0,437.4 L156.4,438.0 L157.7,438.7 L159.1,439.5 L160.4,440.4 L161.8,441.4 L163.1,442.5 L164.5,443.8 L165.8,445.2 L167.2,446.7 L168.5,448.3 L169.9,450.1 L171.2,452.1 L172.6,454.1 L173.9,456.4 L175.3,458.7 L176.6,461.1 L178.0,463.6 L179.3,466.2 L180.7,468.9 L182.0,471.6 L183.4,474.3 L184.7,477.0 L186.1,479.8 L187.4,482.5 L188.8,485.3 L190.1,488.0 L191.5,490.7 L192.8,493.3 L194.2,496.0 L195.5,498.5 L196.9,501.1 L198.2,503.6 L199.6,506.1 L200.9,508.6 L202.3,511.1 L203.6,513.5 L205.0,515.8 L206.3,518.2 L207.7,520.5 L209.0,522.8 L210.4,525.1 L211.7,527.3 L213.1,529.5 L214.4,531.7 L215.8,533.8 L217.1,536.0 L218.5,538.0 L219.8,540.1 L221.2,542.1 L222.5,544.1 L223.9,546.1 L225.2,548.1 L226.6,550.0 L227.9,551.9 L229.3,553.7 L230.6,555.6 L232.0,557.4 L233.3,559.2 L234.7,560.9 L236.0,562.6 L237.4,564.3 L238.7,566.0 L240.1,567.7 L241.4,569.3 L242.8,570.9 L244.1,572.4 L245.5,574.0 L246.8,575.5 L248.2,577.0 L249.5,578.4 L250.9,579.9 L252.2,581.3 L253.6,582.7 L254.9,584.0 L256.3,585.4 L257.6,586.7 L259.0,588.0 L260.3,589.2 L261.7,590.5 L263.0,591.7 L264.4,592.9 L265.7,594.0 L267.1,595.2 L268.4,596.3 L269.8,597.4 L271.1,598.4 L272.5,599.5 L273.8,600.5 L275.2,601.5 L276.5,602.5 L277.9,603.5 L279.2,604.4 L280.6,605.3 L281.9,606.2 L283.2,607.0 L284.6,607.9 L285.9,608.7 L287.3,609.5 L288.6,610.3 L290.0,611.0 L291.3,611.8 L292.7,612.5 L294.0,613.2 L295.4,613.9 L296.7,614.5 L298.1,615.2 L299.4,615.8 L300.8,616.4 L302.1,617.0 L303.5,617.5 L304.8,618.1 L306.2,618.6 L307.5,619.1 L308.9,619.6 L310.2,620.1 L311.6,620.6 L312.9,621.0 L314.3,621.5 L315.6,621.9 L317.0,622.3 L318.3,622.7 L319.7,623.1 L321.0,623.5 L322.4,623.8 L323.7,624.2 L325.1,624.5 L326.4,624.9 L327.8,625.2 L329.1,625.5 L330.5,625.8 L331.8,626.1 L333.2,626.3 L334.5,626.6 L335.9,626.9 L337.2,627.1 L338.6,627.4 L339.9,627.6 L341.3,627.8 L342.6,628.0 L344.0,628.2 L345.3,628.4 L346.7,628.6 L348.0,628.8 L349.4,629.0 L350.7,629.2 L352.1,629.3 L353.4,629.5 L354.8,629.7 L356.1,629.8 L357.5,630.0 L358.8,630.1 L360.2,630.2 L361.5,630.4 L362.9,630.5 L364.2,630.6 L365.6,630.7 L366.9,630.8 L368.3,630.9 L369.6,631.0 L371.0,631.1 L372.3,631.2 L373.7,631.3 L375.0,631.4 L376.4,631.5 L377.7,631.6 L379.1,631.7 L380.4,631.8 L381.8,631.8 L383.1,631.9 L384.5,632.0 L385.8,632.0 L387.2,632.1 L388.5,632.2 L389.9,632.2 L391.2,632.3 L392.6,632.3 L393.9,632.4 L395.3,632.5 L396.6,632.5 L398.0,632.5 L399.3,632.6 L400.7,632.6 L402.0,632.7 L403.4,632.7 L404.7,632.8 L406.1,632.8 L407.4,632.8 L408.8,632.9 L410.1,632.9 L411.5,632.9 L412.8,633.0 L414.2,633.0 L415.5,633.0 L416.9,633.1 L418.2,633.1 L419.6,633.1 L420.9,633.1 L422.3,633.2 L423.6,633.2 L425.0,633.2 L426.3,633.2 L427.7,633.2 L429.0,633.3 L430.4,633.3 L431.7,633.3 L433.0,633.3 L434.4,633.3 L435.7,633.4 L437.1,633.4 L438.4,633.4 L439.8,633.4 L441.1,633.4 L442.5,633.4 L443.8,633.4 L445.2,633.4 L446.5,633.4 L447.9,633.5 L449.2,633.5 L450.6,633.5 L451.9,633.5 L453.3,633.5 L454.6,633.5 L456.0,633.5 L457.3,633.5 L458.7,633.5 L460.0,633.5 L461.4,633.5 L462.7,633.5 L464.1,633.5 L465.4,633.5 L466.8,633.5 L468.1,633.5 L469.5,633.5 L470.8,633.5 L472.2,633.5 L473.5,633.5 L474.9,633.5 L476.2,633.5 L477.6,633.5 L478.9,633.5 L480.3,633.5 L481.6,633.5 L483.0,633.5 L484.3,633.5 L485.7,633.5 L487.0,633.4 L488.4,633.4 L489.7,633.4 L491.1,633.4 L492.4,633.4 L493.8,633.4 L495.1,633.4 L496.5,633.4 L497.8,633.3 L499.2,633.3 L500.5,633.3 L501.9,633.3 L503.2,633.3 L504.6,633.2 L505.9,633.2 L507.3,633.2 L508.6,633.1 L510.0,633.1 L511.3,633.1 L512.7,633.1 L514.0,633.0 L515.4,633.0 L516.7,632.9 L518.1,632.9 L519.4,632.8 L520.8,632.8 L522.1,632.8 L523.5,632.7 L524.8,632.6 L526.2,632.6 L527.5,632.5 L528.9,632.4 L530.2,632.4 L531.6,632.3 L532.9,632.2 L534.3,632.1 L535.6,632.0 L537.0,631.9 L538.3,631.8 L539.7,631.7 L541.0,631.6 L542.4,631.5 L543.7,631.3 L545.1,631.2 L546.4,631.0 L547.8,630.9 L549.1,630.7 L550.5,630.5 L551.8,630.3 L553.2,630.1 L554.5,629.8 L555.9,629.6 L557.2,629.3 L558.6,629.0 L559.9,628.7 L561.3,628.4 L562.6,628.0 L564.0,627.6 L565.3,627.2 L566.7,626.8 L568.0,626.3 L569.4,625.7 L570.7,625.1 L572.1,624.5 L573.4,623.8 L574.8,623.1 L576.1,622.3 L577.5,621.4 L578.8,620.5 L580.2,619.4 L581.5,618.3" stroke="#d4088a" stroke-width="1.1" fill="none" stroke-linejoin="round"/>
<path d="M42.5,561.5 L137.5,435.2 L138.8,435.2 L140.2,435.3 L141.5,435.4 L142.9,435.4 L144.2,435.6 L145.6,435.8 L146.9,436.0 L148.3,436.3 L149.6,436.6 L151.0,437.0 L152.3,437.5 L153.7,438.1 L155.0,438.8 L156.4,439.6 L157.7,440.5 L159.1,441.5 L160.4,442.6 L161.8,443.9 L163.1,445.3 L164.5,446.8 L165.8,448.4 L167.2,450.2 L168.5,452.1 L169.9,454.2 L171.2,456.4 L172.6,458.8 L173.9,461.3 L175.3,463.9 L176.6,466.6 L178.0,469.4 L179.3,472.3 L180.7,475.3 L182.0,478.3 L183.4,481.3 L184.7,484.4 L186.1,487.5 L187.4,490.5 L188.8,493.6 L190.1,496.7 L191.5,499.7 L192.8,502.7 L194.2,505.7 L195.5,508.7 L196.9,511.6 L198.2,514.5 L199.6,517.4 L200.9,520.2 L202.3,522.9 L203.6,525.6 L205.0,528.3 L206.3,530.9 L207.7,533.4 L209.0,535.9 L210.4,538.4 L211.7,540.8 L213.1,543.2 L214.4,545.5 L215.8,547.8 L217.1,550.0 L218.5,552.2 L219.8,554.3 L221.2,556.4 L222.5,558.4 L223.9,560.5 L225.2,562.4 L226.6,564.4 L227.9,566.2 L229.3,568.1 L230.6,569.9 L232.0,571.7 L233.3,573.4 L234.7,575.1 L236.0,576.7 L237.4,578.4 L238.7,579.9 L240.1,581.5 L241.4,583.0 L242.8,584.5 L244.1,585.9 L245.5,587.3 L246.8,588.7 L248.2,590.1 L249.5,591.4 L250.9,592.7 L252.2,593.9 L253.6,595.2 L254.9,596.3 L256.3,597.5 L257.6,598.6 L259.0,599.8 L260.3,600.8 L261.7,601.9 L263.0,602.9 L264.4,603.9 L265.7,604.9 L267.1,605.8 L268.4,606.8 L269.8,607.7 L271.1,608.5 L272.5,609.4 L273.8,610.2 L275.2,611.0 L276.5,611.8 L277.9,612.6 L279.2,613.3 L280.6,614.1 L281.9,614.8 L283.2,615.4 L284.6,616.1 L285.9,616.8 L287.3,617.4 L288.6,618.0 L290.0,618.6 L291.3,619.1 L292.7,619.7 L294.0,620.2 L295.4,620.8 L296.7,621.3 L298.1,621.8 L299.4,622.2 L300.8,622.7 L302.1,623.1 L303.5,623.6 L304.8,624.0 L306.2,624.4 L307.5,624.7 L308.9,625.1 L310.2,625.5 L311.6,625.8 L312.9,626.1 L314.3,626.5 L315.6,626.8 L317.0,627.1 L318.3,627.3 L319.7,627.6 L321.0,627.9 L322.4,628.1 L323.7,628.4 L325.1,628.6 L326.4,628.8 L327.8,629.0 L329.1,629.2 L330.5,629.4 L331.8,629.6 L333.2,629.8 L334.5,629.9 L335.9,630.1 L337.2,630.3 L338.6,630.4 L339.9,630.5 L341.3,630.7 L342.6,630.8 L344.0,630.9 L345.3,631.1 L346.7,631.2 L348.0,631.3 L349.4,631.4 L350.7,631.5 L352.1,631.6 L353.4,631.7 L354.8,631.7 L356.1,631.8 L357.5,631.9 L358.8,632.0 L360.2,632.0 L361.5,632.1 L362.9,632.2 L364.2,632.2 L365.6,632.3 L366.9,632.3 L368.3,632.4 L369.6,632.4 L371.0,632.5 L372.3,632.5 L373.7,632.6 L375.0,632.6 L376.4,632.7 L377.7,632.7 L379.1,632.7 L380.4,632.8 L381.8,632.8 L383.1,632.8 L384.5,632.8 L385.8,632.9 L387.2,632.9 L388.5,632.9 L389.9,632.9 L391.2,632.9 L392.6,632.9 L393.9,633.0 L395.3,633.0 L396.6,633.0 L398.0,633.0 L399.3,633.0 L400.7,633.0 L402.0,633.0 L403.4,633.0 L404.7,633.0 L406.1,633.0 L407.4,633.0 L408.8,633.0 L410.1,633.0 L411.5,633.0 L412.8,632.9 L414.2,632.9 L415.5,632.9 L416.9,632.9 L418.2,632.9 L419.6,632.9 L420.9,632.8 L422.3,632.8 L423.6,632.8 L425.0,632.7 L426.3,632.7 L427.7,632.7 L429.0,632.6 L430.4,632.6 L431.7,632.5 L433.0,632.4 L434.4,632.4 L435.7,632.3 L437.1,632.2 L438.4,632.2 L439.8,632.1 L441.1,632.0 L442.5,631.9 L443.8,631.8 L445.2,631.7 L446.5,631.6 L447.9,631.4 L449.2,631.3 L450.6,631.2 L451.9,631.0 L453.3,630.9 L454.6,630.7 L456.0,630.5 L457.3,630.3 L458.7,630.1 L460.0,629.9 L461.4,629.7 L462.7,629.4 L464.1,629.2 L465.4,628.9 L466.8,628.6 L468.1,628.3 L469.5,627.9 L470.8,627.6 L472.2,627.2 L473.5,626.8 L474.9,626.4 L476.2,626.0 L477.6,625.5 L478.9,625.0 L480.3,624.5 L481.6,624.0 L483.0,623.4 L484.3,622.8 L485.7,622.2 L487.0,621.5 L488.4,620.8 L489.7,620.1 L491.1,619.3 L492.4,618.5 L493.8,617.7 L495.1,616.8 L496.5,615.9 L497.8,615.0 L499.2,614.0 L500.5,613.0 L501.9,612.0 L503.2,610.9 L504.6,609.8 L505.9,608.7 L507.3,607.5 L508.6,606.3 L510.0,605.1 L511.3,603.8 L512.7,602.6 L514.0,601.3 L515.4,600.0 L516.7,598.6 L518.1,597.3 L519.4,596.0 L520.8,594.6 L522.1,593.2 L523.5,591.9 L524.8,590.5 L526.2,589.1 L527.5,587.7 L528.9,586.3 L530.2,584.9 L531.6,583.5 L532.9,582.1 L534.3,580.7 L535.6,579.3 L537.0,577.9 L538.3,576.5 L539.7,575.1 L541.0,573.6 L542.4,572.2 L543.7,570.8 L545.1,569.4 L546.4,568.0 L547.8,566.6 L549.1,565.2 L550.5,563.7 L551.8,562.3 L553.2,560.9 L554.5,559.4 L555.9,558.0 L557.2,556.5 L558.6,555.1 L559.9,553.6 L561.3,552.1 L562.6,550.6 L564.0,549.1 L565.3,547.5 L566.7,545.9 L568.0,544.3 L569.4,542.7 L570.7,541.1 L572.1,539.4 L573.4,537.6 L574.8,535.8 L576.1,534.0 L577.5,532.2 L578.8,530.2 L580.2,528.2 L581.5,526.2" stroke="#ffd30a" stroke-width="1.1" fill="none" stroke-linejoin="round"/>
<path d="M42.5,50.5 H581.5 V634.5 H42.5 Z M110.5,634 V628 M110.5,51 V57 M177.5,634 V628 M177.5,51 V57 M244.5,634 V628 M244.5,51 V57 M312.5,634 V628 M312.5,51 V57 M379.5,634 V628 M379.5,51 V57 M446.5,634 V628 M446.5,51 V57 M514.5,634 V628 M514.5,51 V57 M43,561.5 H49 M581,561.5 H575 M43,488.5 H49 M581,488.5 H575 M43,415.5 H49 M581,415.5 H575 M43,342.5 H49 M581,342.5 H575 M43,269.5 H49 M581,269.5 H575 M43,196.5 H49 M581,196.5 H575 M43,123.5 H49 M581,123.5 H575" stroke="#262626" stroke-width="1" fill="none" shape-rendering="crispEdges"/>
<text x="36.3" y="639.5" text-anchor="end" font-family="Liberation Sans" font-size="14" fill="#333333">0</text>
<text x="36.3" y="566.5" text-anchor="end" font-family="Liberation Sans" font-size="14" fill="#333333">1</text>
<text x="36.3" y="493.5" text-anchor="end" font-family="Liberation Sans" font-size="14" fill="#333333">2</text>
<text x="36.3" y="420.5" text-anchor="end" font-family="Liberation Sans" font-size="14" fill="#333333">3</text>
<text x="36.3" y="347.5" text-anchor="end" font-family="Liberation Sans" font-size="14" fill="#333333">4</text>
<text x="36.3" y="274.5" text-anchor="end" font-family="Liberation Sans" font-size="14" fill="#333333">5</text>
<text x="36.3" y="201.5" text-anchor="end" font-family="Liberation Sans" font-size="14" fill="#333333">6</text>
<text x="36.3" y="128.5" text-anchor="end" font-family="Liberation Sans" font-size="14" fill="#333333">7</text>
<text x="36.3" y="55.5" text-anchor="end" font-family="Liberation Sans" font-size="14" fill="#333333">8</text>
<text x="42.50" y="653" text-anchor="middle" font-family="Liberation Sans" font-size="14" fill="#333333">0</text>
<text x="109.88" y="653" text-anchor="middle" font-family="Liberation Sans" font-size="14" fill="#333333">5</text>
<text x="177.25" y="653" text-anchor="middle" font-family="Liberation Sans" font-size="14" fill="#333333">10</text>
<text x="244.62" y="653" text-anchor="middle" font-family="Liberation Sans" font-size="14" fill="#333333">15</text>
<text x="312.00" y="653" text-anchor="middle" font-family="Liberation Sans" font-size="14" fill="#333333">20</text>
<text x="379.38" y="653" text-anchor="middle" font-family="Liberation Sans" font-size="14" fill="#333333">25</text>
<text x="446.75" y="653" text-anchor="middle" font-family="Liberation Sans" font-size="14" fill="#333333">30</text>
<text x="514.12" y="653" text-anchor="middle" font-family="Liberation Sans" font-size="14" fill="#333333">35</text>
<text x="581.50" y="653" text-anchor="middle" font-family="Liberation Sans" font-size="14" fill="#333333">40</text>
<text x="312" y="672.6" text-anchor="middle" font-family="Liberation Sans" font-size="16" fill="#333333">time (day)</text>
<text transform="translate(19.8,342) rotate(-90)" text-anchor="middle" font-family="Liberation Sans" font-size="16" fill="#333333">[Tumor Growth].tumor_weight (gram)</text>
</svg>
<div style="position:absolute;left:1px;top:3px;width:1px;height:679px;background:#c4c4c4;"></div>
<div style="position:absolute;left:0px;top:26px;width:1px;height:25px;background:#f4f4f4;"></div>
<div style="position:absolute;left:0px;top:51px;width:1px;height:1px;background:#8a8a8a;"></div>
<div style="position:absolute;left:0px;top:56px;width:1px;height:7px;background:#a8a8a8;"></div>
<div style="position:absolute;left:0px;top:76px;width:1px;height:1px;background:#8a8a8a;"></div>
<div style="position:absolute;left:0px;top:25px;width:197px;height:1px;background:#c0c0c0;"></div>
<div style="position:absolute;left:252px;top:25px;width:363px;height:1px;background:#c0c0c0;"></div>
<div style="position:absolute;left:8px;top:10px;width:4px;height:1px;background:#7a7a7a;"></div>
<div style="position:absolute;left:8px;top:12px;width:4px;height:1px;background:#7a7a7a;"></div>
<div style="position:absolute;left:8px;top:14px;width:4px;height:1px;background:#7a7a7a;"></div>
<div style="position:absolute;left:8px;top:16px;width:4px;height:1px;background:#7a7a7a;"></div>
<div style="position:absolute;left:17px;top:3px;width:1px;height:22px;background:#b4b4b4;"></div>
<div style="position:absolute;left:18px;top:3px;width:88px;height:22px;background:#e6e6e6;"></div><div style="position:absolute;left:18px;top:3px;width:88px;height:3px;background:#9c9c9c;"></div><div style="position:absolute;left:17px;top:3px;width:1px;height:22px;background:#b4b4b4;"></div><div style="position:absolute;left:106px;top:3px;width:1px;height:22px;background:#b4b4b4;"></div><div class="t" style="left:26px;top:20px;font-size:12px;color:#333;font-weight:400;"><span>Datasheet1</span></div><svg style="position:absolute;left:92px;top:12px" width="10" height="10" viewBox="0 0 10 10"><path d="M0.3,0.3 L8,8 M8,0.3 L0.3,8" stroke="#555" stroke-width="1" fill="none"/></svg>
<div style="position:absolute;left:112px;top:3px;width:80px;height:22px;background:#e6e6e6;"></div><div style="position:absolute;left:112px;top:3px;width:80px;height:3px;background:#9c9c9c;"></div><div style="position:absolute;left:111px;top:3px;width:1px;height:22px;background:#b4b4b4;"></div><div style="position:absolute;left:192px;top:3px;width:1px;height:22px;background:#b4b4b4;"></div><div class="t" style="left:120px;top:20px;font-size:12px;color:#4359c9;font-weight:400;"><span>Program1</span></div><svg style="position:absolute;left:177px;top:12px" width="10" height="10" viewBox="0 0 10 10"><path d="M0.3,0.3 L8,8 M8,0.3 L0.3,8" stroke="#555" stroke-width="1" fill="none"/></svg>
<div style="position:absolute;left:198px;top:3px;width:54px;height:22px;background:#fff;"></div><div style="position:absolute;left:198px;top:3px;width:54px;height:3px;background:#004b87;"></div><div style="position:absolute;left:197px;top:3px;width:1px;height:23px;background:#b4b4b4;"></div><div style="position:absolute;left:252px;top:3px;width:1px;height:23px;background:#b4b4b4;"></div><div class="t" style="left:206.4px;top:20px;font-size:12px;color:#262626;font-weight:400;"><span>Plot1</span></div><svg style="position:absolute;left:238px;top:12px" width="10" height="10" viewBox="0 0 10 10"><path d="M0.3,0.3 L8,8 M8,0.3 L0.3,8" stroke="#555" stroke-width="1" fill="none"/></svg>
<svg style="position:absolute;left:262px;top:9px" width="12" height="12" viewBox="0 0 12 12"><path d="M6,0.5 V10.5 M1,5.5 H11" stroke="#ababab" stroke-width="2" fill="none"/></svg>
<div style="position:absolute;left:593px;top:9px;width:2px;height:2px;background:#6a6a6a;"></div>
<div style="position:absolute;left:593px;top:13px;width:2px;height:2px;background:#6a6a6a;"></div>
<div style="position:absolute;left:593px;top:17px;width:2px;height:2px;background:#6a6a6a;"></div>
<div style="position:absolute;left:615px;top:3px;width:1px;height:679px;background:#b4b4b4;"></div>
<div class="t" style="left:622.5px;top:18.2px;font-size:13px;color:#262626;font-weight:400;"><span>Property Editor</span></div>
<div style="position:absolute;left:1050px;top:9px;width:2px;height:2px;background:#555;"></div>
<div style="position:absolute;left:1050px;top:13px;width:2px;height:2px;background:#555;"></div>
<div style="position:absolute;left:1050px;top:17px;width:2px;height:2px;background:#555;"></div>
<div style="position:absolute;left:616px;top:25px;width:451px;height:1px;background:#c0c0c0;"></div>
<div style="position:absolute;left:616px;top:26px;width:451px;height:24px;background:#fafafa;"></div>
<div style="position:absolute;left:618px;top:50px;width:449px;height:1px;background:#cdcdcd;"></div>
<div class="t" style="left:623.4px;top:41px;font-size:12.7px;color:#3e5cc4;font-weight:700;"><span>Slice Data</span></div>
<div style="position:absolute;left:695px;top:33px;width:1px;height:12px;background:#4e4e5e;"></div>
<div class="t" style="left:707.2px;top:41px;font-size:13px;color:#333;font-weight:400;"><span>Plot Settings</span></div>
<div style="position:absolute;left:622px;top:58px;width:8px;height:617px;background:#ececec;"></div>
<div class="t" style="left:640.3px;top:68px;font-size:12px;color:#000;font-weight:400;"><span>STYLE</span></div>
<div style="position:absolute;left:651px;top:72px;width:64px;height:63px;border:1px solid #8a8a8a;border-radius:6px;background:#d9d9d9"></div>
<svg style="position:absolute;left:0;top:0" width="1067" height="682"><defs><clipPath id="c654"><rect x="655" y="76" width="59" height="38"/></clipPath></defs><rect x="654" y="75" width="60" height="40" fill="#fff"/><path d="M654,75.5 H713.5 V114" stroke="#a4a4a4" stroke-width="1" fill="none"/><g clip-path="url(#c654)"><path d="M642.0,95.91 L643.0,98.44 L644.0,100.78 L645.0,102.83 L646.0,104.48 L647.0,105.65 L648.0,106.29 L649.0,106.36 L650.0,105.86 L651.0,104.82 L652.0,103.28 L653.0,101.32 L654.0,99.04 L655.0,96.55 L656.0,93.97 L657.0,91.43 L658.0,89.06 L659.0,86.96 L660.0,85.24 L661.0,83.99 L662.0,83.27 L663.0,83.11 L664.0,83.53 L665.0,84.49 L666.0,85.96 L667.0,87.86 L668.0,90.10 L669.0,92.56 L670.0,95.14 L671.0,97.69 L672.0,100.10 L673.0,102.25 L674.0,104.03 L675.0,105.35 L676.0,106.16 L677.0,106.40 L678.0,106.07 L679.0,105.19 L680.0,103.79 L681.0,101.95 L682.0,99.75 L683.0,97.32 L684.0,94.75 L685.0,92.18 L686.0,89.75 L687.0,87.55 L688.0,85.71 L689.0,84.31 L690.0,83.43 L691.0,83.10 L692.0,83.34 L693.0,84.15 L694.0,85.47 L695.0,87.25 L696.0,89.40 L697.0,91.81 L698.0,94.36 L699.0,96.94 L700.0,99.40 L701.0,101.64 L702.0,103.54 L703.0,105.01 L704.0,105.97 L705.0,106.39 L706.0,106.23 L707.0,105.51 L708.0,104.26 L709.0,102.54 L710.0,100.44 L711.0,98.07 L712.0,95.53 L713.0,92.95 L714.0,90.46 L715.0,88.18 L716.0,86.22 L717.0,84.68 L718.0,83.64 L719.0,83.14 L720.0,83.21 L721.0,83.85 L722.0,85.02 L723.0,86.67 L724.0,88.72 L725.0,91.06 L726.0,93.59 L727.0,96.17" stroke="#1a7ccc" stroke-width="1.4" fill="none"/></g><path d="M655,75 V114.25 H714" stroke="#111" stroke-width="1.2" fill="none"/><path d="M655,81.5 H657 M655,88.5 H657 M655,95.5 H657 M655,102.5 H657 M655,109.5 H657 M659.5,114 V112 M667.5,114 V112 M675.5,114 V112 M683.5,114 V112 M691.5,114 V112 M699.5,114 V112 M707.5,114 V112" stroke="#222" stroke-width="1" fill="none"/></svg>
<div class="t" style="left:671.9px;top:129px;font-size:12px;color:#333;font-weight:400;"><span>Time</span></div>
<div style="position:absolute;left:721px;top:72px;width:64px;height:63px;border:1px solid #8a8a8a;border-radius:6px;background:linear-gradient(#ffffff,#f0f0f0)"></div>
<svg style="position:absolute;left:0;top:0" width="1067" height="682"><defs><clipPath id="c724"><rect x="725" y="76" width="59" height="38"/></clipPath></defs><rect x="724" y="75" width="60" height="40" fill="#fff"/><path d="M724,75.5 H783.5 V114" stroke="#a4a4a4" stroke-width="1" fill="none"/><g clip-path="url(#c724)"><path d="M712.0,95.91 L713.0,98.44 L714.0,100.78 L715.0,102.83 L716.0,104.48 L717.0,105.65 L718.0,106.29 L719.0,106.36 L720.0,105.86 L721.0,104.82 L722.0,103.28 L723.0,101.32 L724.0,99.04 L725.0,96.55 L726.0,93.97 L727.0,91.43 L728.0,89.06 L729.0,86.96 L730.0,85.24 L731.0,83.99 L732.0,83.27 L733.0,83.11 L734.0,83.53 L735.0,84.49 L736.0,85.96 L737.0,87.86 L738.0,90.10 L739.0,92.56 L740.0,95.14 L741.0,97.69 L742.0,100.10 L743.0,102.25 L744.0,104.03 L745.0,105.35 L746.0,106.16 L747.0,106.40 L748.0,106.07 L749.0,105.19 L750.0,103.79 L751.0,101.95 L752.0,99.75 L753.0,97.32 L754.0,94.75 L755.0,92.18 L756.0,89.75 L757.0,87.55 L758.0,85.71 L759.0,84.31 L760.0,83.43 L761.0,83.10 L762.0,83.34 L763.0,84.15 L764.0,85.47 L765.0,87.25 L766.0,89.40 L767.0,91.81 L768.0,94.36 L769.0,96.94 L770.0,99.40 L771.0,101.64 L772.0,103.54 L773.0,105.01 L774.0,105.97 L775.0,106.39 L776.0,106.23 L777.0,105.51 L778.0,104.26 L779.0,102.54 L780.0,100.44 L781.0,98.07 L782.0,95.53 L783.0,92.95 L784.0,90.46 L785.0,88.18 L786.0,86.22 L787.0,84.68 L788.0,83.64 L789.0,83.14 L790.0,83.21 L791.0,83.85 L792.0,85.02 L793.0,86.67 L794.0,88.72 L795.0,91.06 L796.0,93.59 L797.0,96.17" stroke="#c9dff3" stroke-width="13" fill="none"/><path d="M712.0,95.91 L713.0,98.44 L714.0,100.78 L715.0,102.83 L716.0,104.48 L717.0,105.65 L718.0,106.29 L719.0,106.36 L720.0,105.86 L721.0,104.82 L722.0,103.28 L723.0,101.32 L724.0,99.04 L725.0,96.55 L726.0,93.97 L727.0,91.43 L728.0,89.06 L729.0,86.96 L730.0,85.24 L731.0,83.99 L732.0,83.27 L733.0,83.11 L734.0,83.53 L735.0,84.49 L736.0,85.96 L737.0,87.86 L738.0,90.10 L739.0,92.56 L740.0,95.14 L741.0,97.69 L742.0,100.10 L743.0,102.25 L744.0,104.03 L745.0,105.35 L746.0,106.16 L747.0,106.40 L748.0,106.07 L749.0,105.19 L750.0,103.79 L751.0,101.95 L752.0,99.75 L753.0,97.32 L754.0,94.75 L755.0,92.18 L756.0,89.75 L757.0,87.55 L758.0,85.71 L759.0,84.31 L760.0,83.43 L761.0,83.10 L762.0,83.34 L763.0,84.15 L764.0,85.47 L765.0,87.25 L766.0,89.40 L767.0,91.81 L768.0,94.36 L769.0,96.94 L770.0,99.40 L771.0,101.64 L772.0,103.54 L773.0,105.01 L774.0,105.97 L775.0,106.39 L776.0,106.23 L777.0,105.51 L778.0,104.26 L779.0,102.54 L780.0,100.44 L781.0,98.07 L782.0,95.53 L783.0,92.95 L784.0,90.46 L785.0,88.18 L786.0,86.22 L787.0,84.68 L788.0,83.64 L789.0,83.14 L790.0,83.21 L791.0,83.85 L792.0,85.02 L793.0,86.67 L794.0,88.72 L795.0,91.06 L796.0,93.59 L797.0,96.17" stroke="#6aa9df" stroke-width="7.5" fill="none"/><path d="M712.0,95.91 L713.0,98.44 L714.0,100.78 L715.0,102.83 L716.0,104.48 L717.0,105.65 L718.0,106.29 L719.0,106.36 L720.0,105.86 L721.0,104.82 L722.0,103.28 L723.0,101.32 L724.0,99.04 L725.0,96.55 L726.0,93.97 L727.0,91.43 L728.0,89.06 L729.0,86.96 L730.0,85.24 L731.0,83.99 L732.0,83.27 L733.0,83.11 L734.0,83.53 L735.0,84.49 L736.0,85.96 L737.0,87.86 L738.0,90.10 L739.0,92.56 L740.0,95.14 L741.0,97.69 L742.0,100.10 L743.0,102.25 L744.0,104.03 L745.0,105.35 L746.0,106.16 L747.0,106.40 L748.0,106.07 L749.0,105.19 L750.0,103.79 L751.0,101.95 L752.0,99.75 L753.0,97.32 L754.0,94.75 L755.0,92.18 L756.0,89.75 L757.0,87.55 L758.0,85.71 L759.0,84.31 L760.0,83.43 L761.0,83.10 L762.0,83.34 L763.0,84.15 L764.0,85.47 L765.0,87.25 L766.0,89.40 L767.0,91.81 L768.0,94.36 L769.0,96.94 L770.0,99.40 L771.0,101.64 L772.0,103.54 L773.0,105.01 L774.0,105.97 L775.0,106.39 L776.0,106.23 L777.0,105.51 L778.0,104.26 L779.0,102.54 L780.0,100.44 L781.0,98.07 L782.0,95.53 L783.0,92.95 L784.0,90.46 L785.0,88.18 L786.0,86.22 L787.0,84.68 L788.0,83.64 L789.0,83.14 L790.0,83.21 L791.0,83.85 L792.0,85.02 L793.0,86.67 L794.0,88.72 L795.0,91.06 L796.0,93.59 L797.0,96.17" stroke="#0b66b8" stroke-width="1.6" fill="none"/></g><path d="M725,75 V114.25 H784" stroke="#111" stroke-width="1.2" fill="none"/><path d="M725,81.5 H727 M725,88.5 H727 M725,95.5 H727 M725,102.5 H727 M725,109.5 H727 M729.5,114 V112 M737.5,114 V112 M745.5,114 V112 M753.5,114 V112 M761.5,114 V112 M769.5,114 V112 M777.5,114 V112" stroke="#222" stroke-width="1" fill="none"/></svg>
<div class="t" style="left:727.7px;top:129px;font-size:12px;color:#333;font-weight:400;"><span>Percentile</span></div>
<div style="position:absolute;left:636px;top:146px;width:431px;height:1px;background:#c8c8c8;"></div>
<div class="t" style="left:640.5px;top:164px;font-size:12px;color:#000;font-weight:400;"><span>VISUAL CHANNELS</span></div>
<div style="position:absolute;left:640px;top:168px;width:421px;height:118px;border:2px solid #dcdcdc;background:#fff"></div>
<div style="position:absolute;left:642px;top:170px;width:406px;height:22px;background:#ececec;"></div>
<div style="position:absolute;left:1049px;top:170px;width:14px;height:118px;background:#ececec;"></div>
<div style="position:absolute;left:1048px;top:170px;width:1px;height:118px;background:#dedede;"></div>
<div style="position:absolute;left:1052px;top:170px;width:10px;height:10px;border-radius:2px;background:#7dd87d"></div>
<div style="position:absolute;left:642px;top:192px;width:406px;height:1px;background:#dcdcdc;"></div>
<div style="position:absolute;left:642px;top:216px;width:406px;height:1px;background:#dcdcdc;"></div>
<div style="position:absolute;left:642px;top:240px;width:406px;height:1px;background:#dcdcdc;"></div>
<div style="position:absolute;left:642px;top:264px;width:406px;height:1px;background:#dcdcdc;"></div>
<div class="t" style="left:647px;top:185px;font-size:13px;color:#404040;font-weight:700;"><span>Slice by</span></div>
<div class="t" style="left:849.4px;top:185px;font-size:13px;color:#404040;font-weight:700;"><span>Style</span></div>
<div class="t" style="left:646.4px;top:208px;font-size:13px;color:#687585;font-weight:400;"><span>Responses</span></div>
<div class="t" style="left:817.6px;top:208px;font-size:13px;color:#333;font-weight:400;"><span>Line Style</span></div>
<div class="t" style="left:646.4px;top:232px;font-size:13px;color:#687585;font-weight:400;"><span>Scenarios</span></div>
<div class="t" style="left:817.6px;top:232px;font-size:13px;color:#333;font-weight:400;"><span>Color</span></div>
<div class="t" style="left:646.4px;top:256px;font-size:13px;color:#404040;font-weight:400;"><span>Variants</span></div>
<div class="t" style="left:646.4px;top:280px;font-size:13px;color:#404040;font-weight:400;"><span>Doses</span></div>
<div style="position:absolute;left:636px;top:300px;width:431px;height:1px;background:#c8c8c8;"></div>
<div style="position:absolute;left:636px;top:302px;width:431px;height:1px;background:#c8c8c8;"></div>
<div class="t" style="left:640.6px;top:320px;font-size:12px;color:#000;font-weight:400;"><span>RESPONSES -</span></div>
<div class="t" style="left:729.6px;top:320px;font-size:12px;color:#333;font-weight:400;"><span>Line Style</span></div>
<div class="t" style="left:983px;top:319px;font-size:12px;color:#c2c2c2;font-weight:400;"><span>Create Set</span></div>
<div style="position:absolute;left:640px;top:326px;width:421px;height:46px;border:2px solid #dcdcdc;background:#fff"></div>
<div style="position:absolute;left:642px;top:328px;width:421px;height:22px;background:#ececec;"></div>
<div style="position:absolute;left:642px;top:350px;width:421px;height:1px;background:#dcdcdc;"></div>
<div style="position:absolute;left:740px;top:328px;width:1px;height:46px;background:#dcdcdc;"></div>
<div style="position:absolute;left:790px;top:328px;width:1px;height:46px;background:#dcdcdc;"></div>
<div style="position:absolute;left:865px;top:328px;width:1px;height:46px;background:#dcdcdc;"></div>
<div class="t" style="left:676.4px;top:343px;font-size:13px;color:#404040;font-weight:700;"><span>Style</span></div>
<div class="t" style="left:745px;top:343px;font-size:13px;color:#404040;font-weight:700;"><span>Marker</span></div>
<div class="t" style="left:795px;top:343px;font-size:13px;color:#404040;font-weight:700;"><span>Width</span></div>
<div class="t" style="left:870.5px;top:343px;font-size:13px;color:#404040;font-weight:700;"><span>Program1</span></div>
<div style="position:absolute;left:646px;top:355px;width:13px;height:13px;border:1px solid #707070;background:linear-gradient(#ffffff,#e6e6e6)"></div><svg style="position:absolute;left:646px;top:355px" width="15" height="15" viewBox="0 0 15 15"><path d="M3.0,8.3 L4.3,7.3 L6.3,9.6 L11.6,3.0 L12.5,3.6 L6.8,12.0 L5.9,12.0 Z" fill="#000"/></svg>
<div class="t" style="left:676px;top:366px;font-size:13px;color:#404040;font-weight:400;"><span>-</span></div>
<div class="t" style="left:745.5px;top:366px;font-size:13px;color:#404040;font-weight:400;"><span>none</span></div>
<div class="t" style="left:795.5px;top:366px;font-size:13px;color:#404040;font-weight:400;"><span>0.5</span></div>
<div class="t" style="left:870.5px;top:366px;font-size:13px;color:#687585;font-weight:400;"><span>[Tumor Growth].tumor_weight</span></div>
<div style="position:absolute;left:636px;top:383px;width:431px;height:1px;background:#c8c8c8;"></div>
<div class="t" style="left:640.6px;top:401px;font-size:12px;color:#000;font-weight:400;"><span>SCENARIOS -</span></div>
<div class="t" style="left:725.4px;top:401px;font-size:12px;color:#333;font-weight:400;"><span>Color</span></div>
<div style="position:absolute;left:640px;top:407px;width:421px;height:214px;border:2px solid #dcdcdc;background:#fff"></div>
<div style="position:absolute;left:642px;top:409px;width:421px;height:22px;background:#ececec;"></div>
<div style="position:absolute;left:715px;top:409px;width:1px;height:214px;background:#dcdcdc;"></div>
<div style="position:absolute;left:760px;top:409px;width:1px;height:214px;background:#dcdcdc;"></div>
<div style="position:absolute;left:937px;top:409px;width:1px;height:214px;background:#dcdcdc;"></div>
<div class="t" style="left:675.7px;top:423px;font-size:13px;color:#404040;font-weight:700;"><span>Color</span></div>
<div class="t" style="left:720.5px;top:423px;font-size:13px;color:#404040;font-weight:700;"><span>Run</span></div>
<div class="t" style="left:765.2px;top:423px;font-size:13px;color:#404040;font-weight:700;"><span>Variants</span></div>
<div class="t" style="left:942.2px;top:423px;font-size:13px;color:#404040;font-weight:700;"><span>Doses</span></div>
<div style="position:absolute;left:642px;top:431px;width:421px;height:1px;background:#dcdcdc;"></div>
<div style="position:absolute;left:646px;top:436px;width:13px;height:13px;border:1px solid #707070;background:linear-gradient(#ffffff,#e6e6e6)"></div><svg style="position:absolute;left:646px;top:436px" width="15" height="15" viewBox="0 0 15 15"><path d="M3.0,8.3 L4.3,7.3 L6.3,9.6 L11.6,3.0 L12.5,3.6 L6.8,12.0 L5.9,12.0 Z" fill="#000"/></svg>
<div style="position:absolute;left:676px;top:436px;width:14px;height:14px;border:1px solid rgba(0,0,0,0.18);border-radius:2px;background:#1270c6"></div>
<div class="t" style="left:721px;top:448px;font-size:13px;color:#687585;font-weight:400;"><span>1</span></div>
<div class="t" style="left:765.5px;top:448px;font-size:13px;color:#687585;font-weight:400;"><span>1</span></div>
<div class="t" style="left:942.3px;top:448px;font-size:13px;color:#687585;font-weight:400;"><span>Data1.Dose (1)</span></div>
<div style="position:absolute;left:642px;top:455px;width:421px;height:1px;background:#dcdcdc;"></div>
<div style="position:absolute;left:646px;top:460px;width:13px;height:13px;border:1px solid #707070;background:linear-gradient(#ffffff,#e6e6e6)"></div><svg style="position:absolute;left:646px;top:460px" width="15" height="15" viewBox="0 0 15 15"><path d="M3.0,8.3 L4.3,7.3 L6.3,9.6 L11.6,3.0 L12.5,3.6 L6.8,12.0 L5.9,12.0 Z" fill="#000"/></svg>
<div style="position:absolute;left:676px;top:460px;width:14px;height:14px;border:1px solid rgba(0,0,0,0.18);border-radius:2px;background:#e0560c"></div>
<div class="t" style="left:721px;top:472px;font-size:13px;color:#687585;font-weight:400;"><span>2</span></div>
<div class="t" style="left:765.5px;top:472px;font-size:13px;color:#687585;font-weight:400;"><span>2</span></div>
<div class="t" style="left:942.3px;top:472px;font-size:13px;color:#687585;font-weight:400;"><span>Data1.Dose (2)</span></div>
<div style="position:absolute;left:642px;top:479px;width:421px;height:1px;background:#dcdcdc;"></div>
<div style="position:absolute;left:646px;top:484px;width:13px;height:13px;border:1px solid #707070;background:linear-gradient(#ffffff,#e6e6e6)"></div><svg style="position:absolute;left:646px;top:484px" width="15" height="15" viewBox="0 0 15 15"><path d="M3.0,8.3 L4.3,7.3 L6.3,9.6 L11.6,3.0 L12.5,3.6 L6.8,12.0 L5.9,12.0 Z" fill="#000"/></svg>
<div style="position:absolute;left:676px;top:484px;width:14px;height:14px;border:1px solid rgba(0,0,0,0.18);border-radius:2px;background:#edb020"></div>
<div class="t" style="left:721px;top:496px;font-size:13px;color:#687585;font-weight:400;"><span>3</span></div>
<div class="t" style="left:765.5px;top:496px;font-size:13px;color:#687585;font-weight:400;"><span>3</span></div>
<div class="t" style="left:942.3px;top:496px;font-size:13px;color:#687585;font-weight:400;"><span>Data1.Dose (3)</span></div>
<div style="position:absolute;left:642px;top:503px;width:421px;height:1px;background:#dcdcdc;"></div>
<div style="position:absolute;left:646px;top:508px;width:13px;height:13px;border:1px solid #707070;background:linear-gradient(#ffffff,#e6e6e6)"></div><svg style="position:absolute;left:646px;top:508px" width="15" height="15" viewBox="0 0 15 15"><path d="M3.0,8.3 L4.3,7.3 L6.3,9.6 L11.6,3.0 L12.5,3.6 L6.8,12.0 L5.9,12.0 Z" fill="#000"/></svg>
<div style="position:absolute;left:676px;top:508px;width:14px;height:14px;border:1px solid rgba(0,0,0,0.18);border-radius:2px;background:#8719d6"></div>
<div class="t" style="left:721px;top:520px;font-size:13px;color:#687585;font-weight:400;"><span>4</span></div>
<div class="t" style="left:765.5px;top:520px;font-size:13px;color:#687585;font-weight:400;"><span>4</span></div>
<div class="t" style="left:942.3px;top:520px;font-size:13px;color:#687585;font-weight:400;"><span>Data1.Dose (4)</span></div>
<div style="position:absolute;left:642px;top:527px;width:421px;height:1px;background:#dcdcdc;"></div>
<div style="position:absolute;left:646px;top:532px;width:13px;height:13px;border:1px solid #707070;background:linear-gradient(#ffffff,#e6e6e6)"></div><svg style="position:absolute;left:646px;top:532px" width="15" height="15" viewBox="0 0 15 15"><path d="M3.0,8.3 L4.3,7.3 L6.3,9.6 L11.6,3.0 L12.5,3.6 L6.8,12.0 L5.9,12.0 Z" fill="#000"/></svg>
<div style="position:absolute;left:676px;top:532px;width:14px;height:14px;border:1px solid rgba(0,0,0,0.18);border-radius:2px;background:#3aa63a"></div>
<div class="t" style="left:721px;top:544px;font-size:13px;color:#687585;font-weight:400;"><span>5</span></div>
<div class="t" style="left:765.5px;top:544px;font-size:13px;color:#687585;font-weight:400;"><span>5</span></div>
<div class="t" style="left:942.3px;top:544px;font-size:13px;color:#687585;font-weight:400;"><span>Data1.Dose (5)</span></div>
<div style="position:absolute;left:642px;top:551px;width:421px;height:1px;background:#dcdcdc;"></div>
<div style="position:absolute;left:646px;top:556px;width:13px;height:13px;border:1px solid #707070;background:linear-gradient(#ffffff,#e6e6e6)"></div><svg style="position:absolute;left:646px;top:556px" width="15" height="15" viewBox="0 0 15 15"><path d="M3.0,8.3 L4.3,7.3 L6.3,9.6 L11.6,3.0 L12.5,3.6 L6.8,12.0 L5.9,12.0 Z" fill="#000"/></svg>
<div style="position:absolute;left:676px;top:556px;width:14px;height:14px;border:1px solid rgba(0,0,0,0.18);border-radius:2px;background:#32bcee"></div>
<div class="t" style="left:721px;top:568px;font-size:13px;color:#687585;font-weight:400;"><span>6</span></div>
<div class="t" style="left:765.5px;top:568px;font-size:13px;color:#687585;font-weight:400;"><span>6</span></div>
<div class="t" style="left:942.3px;top:568px;font-size:13px;color:#687585;font-weight:400;"><span>Data1.Dose (6)</span></div>
<div style="position:absolute;left:642px;top:575px;width:421px;height:1px;background:#dcdcdc;"></div>
<div style="position:absolute;left:646px;top:580px;width:13px;height:13px;border:1px solid #707070;background:linear-gradient(#ffffff,#e6e6e6)"></div><svg style="position:absolute;left:646px;top:580px" width="15" height="15" viewBox="0 0 15 15"><path d="M3.0,8.3 L4.3,7.3 L6.3,9.6 L11.6,3.0 L12.5,3.6 L6.8,12.0 L5.9,12.0 Z" fill="#000"/></svg>
<div style="position:absolute;left:676px;top:580px;width:14px;height:14px;border:1px solid rgba(0,0,0,0.18);border-radius:2px;background:#d4088a"></div>
<div class="t" style="left:721px;top:592px;font-size:13px;color:#687585;font-weight:400;"><span>7</span></div>
<div class="t" style="left:765.5px;top:592px;font-size:13px;color:#687585;font-weight:400;"><span>7</span></div>
<div class="t" style="left:942.3px;top:592px;font-size:13px;color:#687585;font-weight:400;"><span>Data1.Dose (7)</span></div>
<div style="position:absolute;left:642px;top:599px;width:421px;height:1px;background:#dcdcdc;"></div>
<div style="position:absolute;left:646px;top:604px;width:13px;height:13px;border:1px solid #707070;background:linear-gradient(#ffffff,#e6e6e6)"></div><svg style="position:absolute;left:646px;top:604px" width="15" height="15" viewBox="0 0 15 15"><path d="M3.0,8.3 L4.3,7.3 L6.3,9.6 L11.6,3.0 L12.5,3.6 L6.8,12.0 L5.9,12.0 Z" fill="#000"/></svg>
<div style="position:absolute;left:676px;top:604px;width:14px;height:14px;border:1px solid rgba(0,0,0,0.18);border-radius:2px;background:#ffd30a"></div>
<div class="t" style="left:721px;top:616px;font-size:13px;color:#687585;font-weight:400;"><span>8</span></div>
<div class="t" style="left:765.5px;top:616px;font-size:13px;color:#687585;font-weight:400;"><span>8</span></div>
<div class="t" style="left:942.3px;top:616px;font-size:13px;color:#687585;font-weight:400;"><span>Data1.Dose (8)</span></div>
<div style="position:absolute;left:636px;top:632px;width:431px;height:1px;background:#c8c8c8;"></div>
<div style="position:absolute;left:616px;top:681px;width:451px;height:1px;background:#f0f0f0;"></div>
</body></html>
